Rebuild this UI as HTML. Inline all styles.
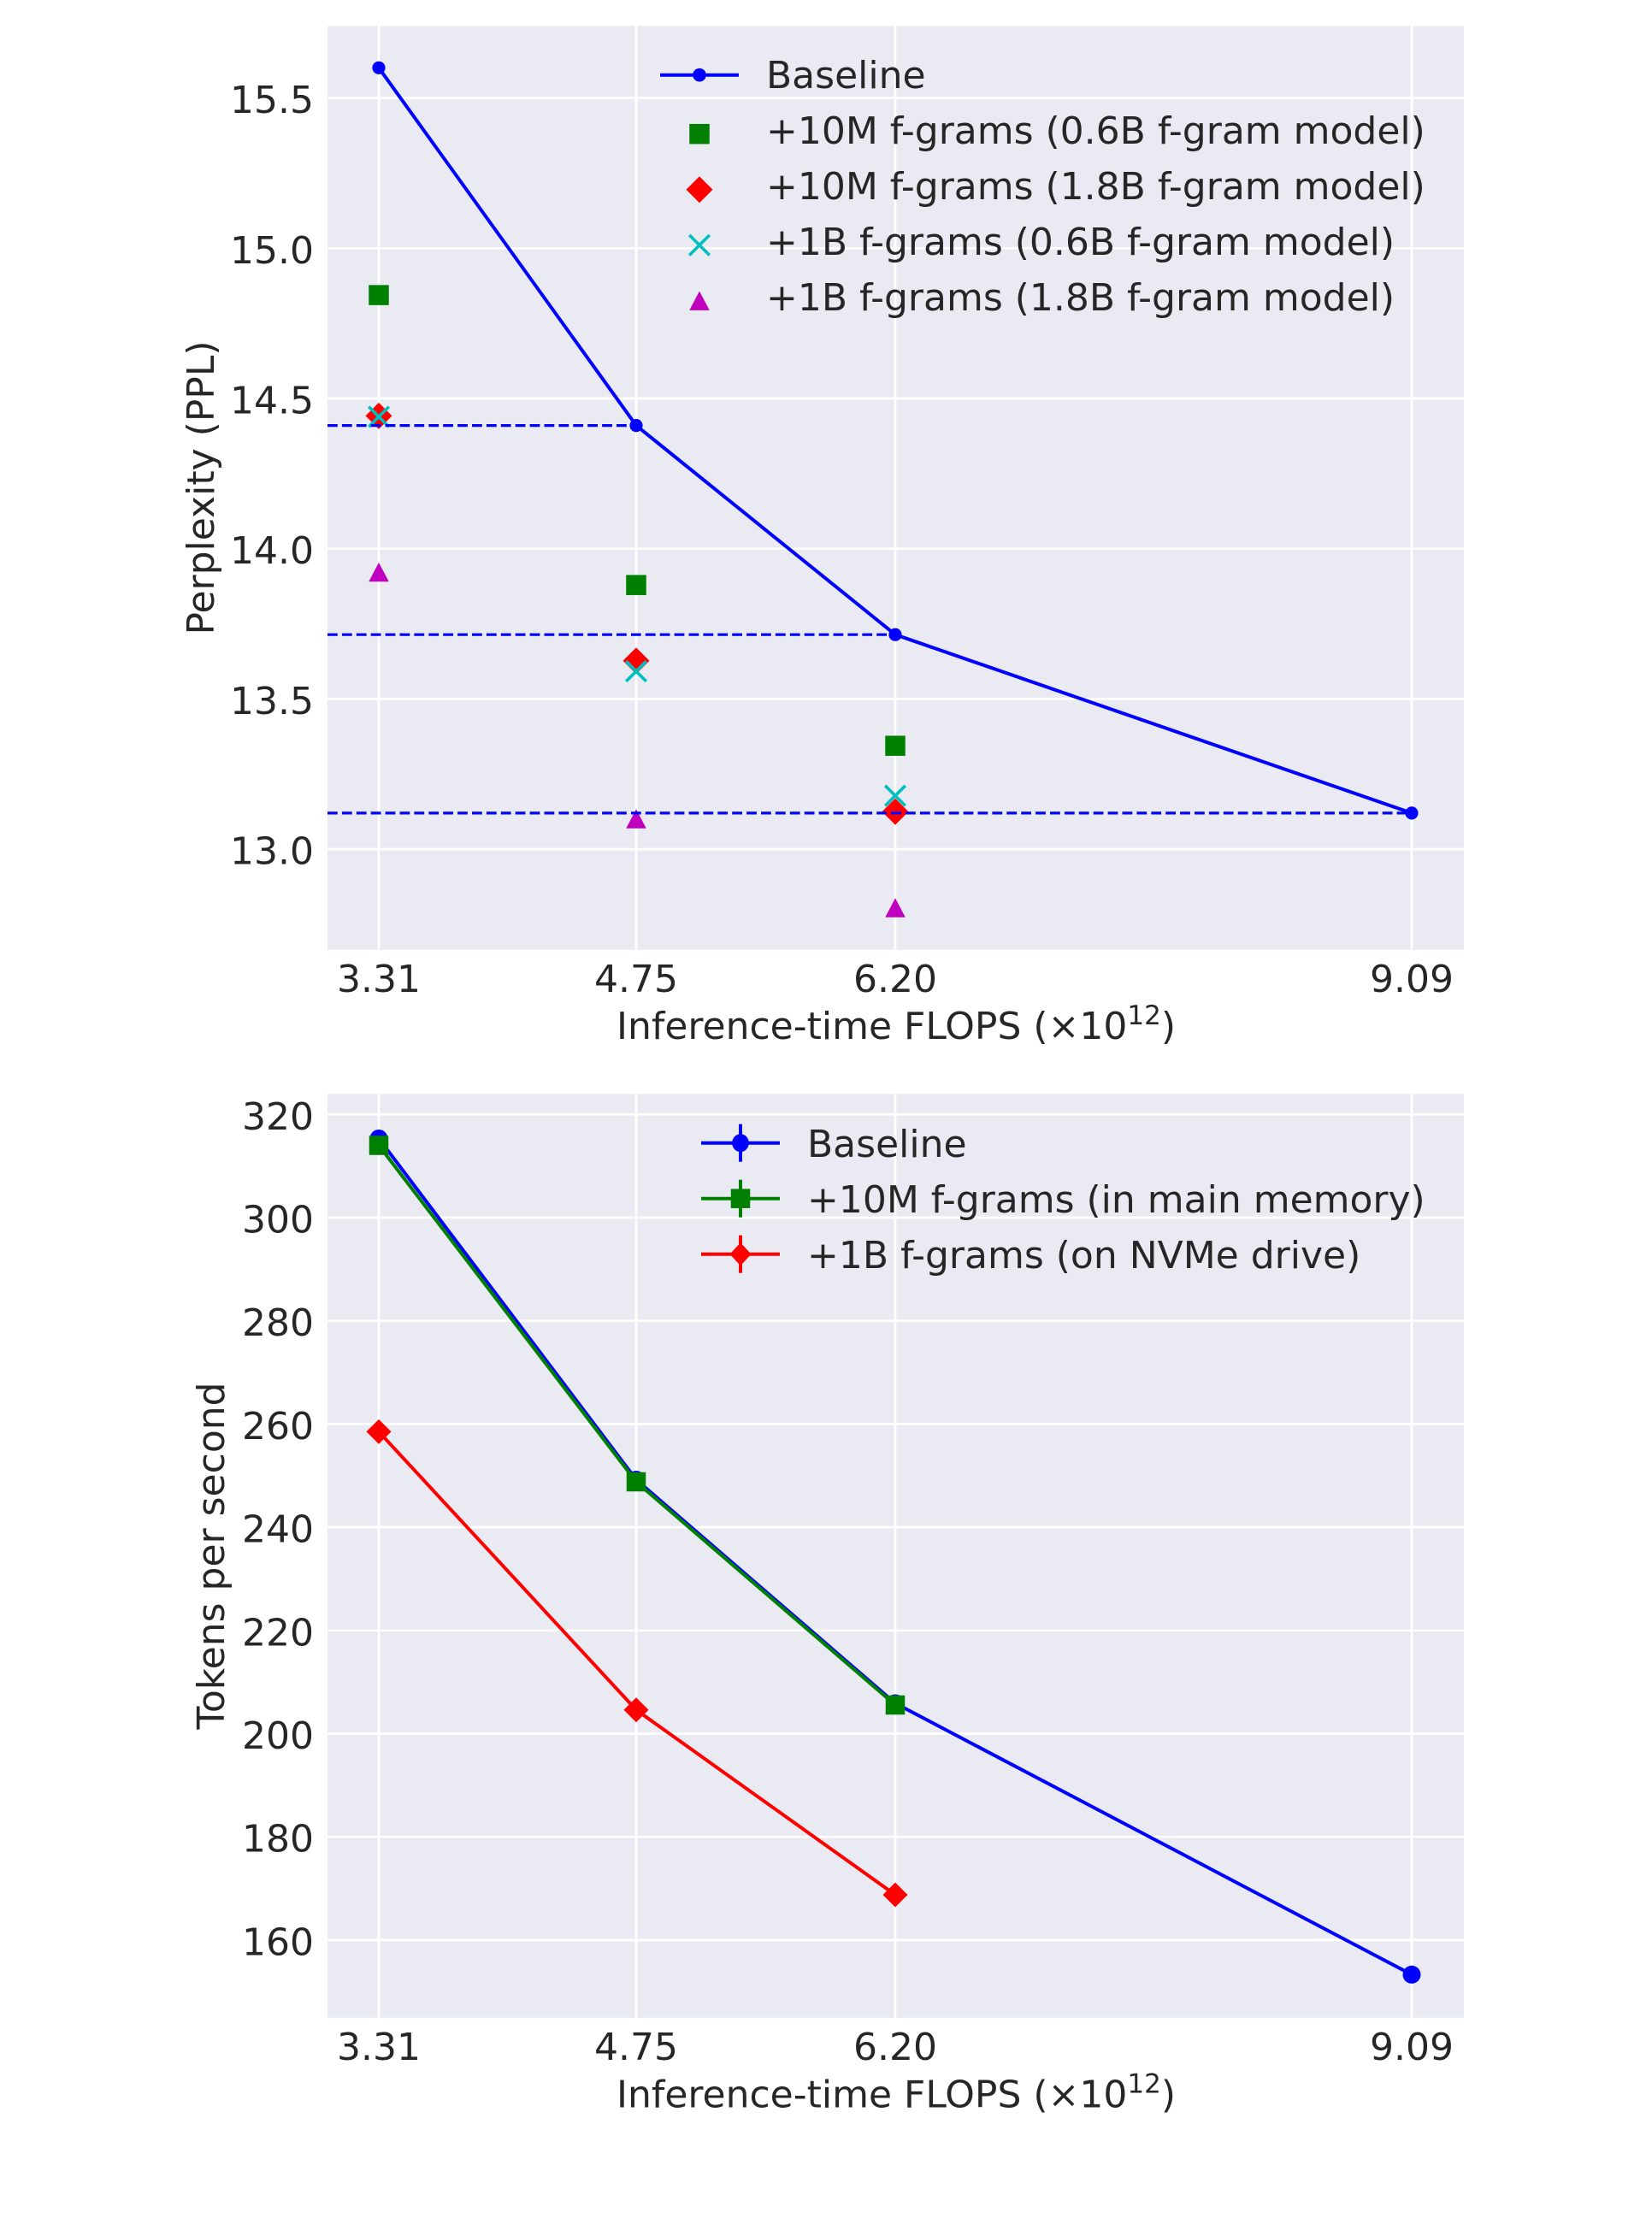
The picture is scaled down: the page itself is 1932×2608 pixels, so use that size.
<!DOCTYPE html>
<html>
<head>
<meta charset="utf-8">
<style>
html,body{margin:0;padding:0;background:#ffffff;}
svg{display:block;}
text{font-family:"DejaVu Sans","Liberation Sans",sans-serif;fill:#262626;}
</style>
</head>
<body>
<svg width="1932" height="2608" viewBox="0 0 1932 2608" xmlns="http://www.w3.org/2000/svg">
<rect x="0" y="0" width="1932" height="2608" fill="#ffffff"/>

<!-- ================= TOP PLOT ================= -->
<rect x="383" y="30.3" width="1329" height="1080.5" fill="#EAEAF2"/>
<g stroke="#ffffff" stroke-width="2.7">
  <line x1="443" y1="30.3" x2="443" y2="1110.8"/>
  <line x1="744" y1="30.3" x2="744" y2="1110.8"/>
  <line x1="1047" y1="30.3" x2="1047" y2="1110.8"/>
  <line x1="1651" y1="30.3" x2="1651" y2="1110.8"/>
  <line x1="383" y1="993.1" x2="1712" y2="993.1"/>
  <line x1="383" y1="817.4" x2="1712" y2="817.4"/>
  <line x1="383" y1="641.7" x2="1712" y2="641.7"/>
  <line x1="383" y1="466.0" x2="1712" y2="466.0"/>
  <line x1="383" y1="290.3" x2="1712" y2="290.3"/>
  <line x1="383" y1="114.6" x2="1712" y2="114.6"/>
</g>

<!-- green squares -->
<g fill="#008000">
  <rect x="431.25" y="333.35" width="23.5" height="23.5"/>
  <rect x="732.25" y="672.45" width="23.5" height="23.5"/>
  <rect x="1035.25" y="860.45" width="23.5" height="23.5"/>
</g>
<!-- red diamonds -->
<g fill="#FF0000">
  <polygon points="443,470.9 458.5,486.4 443,501.9 427.5,486.4"/>
  <polygon points="744,757.3 759.5,772.8 744,788.3 728.5,772.8"/>
  <polygon points="1047,933.7 1062.5,949.2 1047,964.7 1031.5,949.2"/>
</g>
<!-- cyan x -->
<g stroke="#00BFBF" stroke-width="3.6" fill="none">
  <path d="M431.2,475.6 L454.8,499.2 M431.2,499.2 L454.8,475.6"/>
  <path d="M732.2,773.3 L755.8,796.9 M732.2,796.9 L755.8,773.3"/>
  <path d="M1035.2,918.8 L1058.8,942.4 M1035.2,942.4 L1058.8,918.8"/>
</g>
<!-- magenta triangles -->
<g fill="#BF00BF">
  <polygon points="443,657.9 454.75,680.3 431.25,680.3"/>
  <polygon points="744,946.4 755.75,968.8 732.25,968.8"/>
  <polygon points="1047,1050.4 1058.75,1072.8 1035.25,1072.8"/>
</g>

<!-- dashed reference lines -->
<g stroke="#0000FF" stroke-width="3.2" stroke-dasharray="11.8 5.1" fill="none">
  <line x1="383" y1="497.6" x2="744" y2="497.6"/>
  <line x1="383" y1="742.2" x2="1047" y2="742.2"/>
  <line x1="383" y1="950.9" x2="1651" y2="950.9"/>
</g>

<!-- baseline line -->
<polyline points="443,79.3 744,497.6 1047,742.2 1651,950.9" fill="none" stroke="#0000FF" stroke-width="4"/>
<g fill="#0000FF">
  <circle cx="443" cy="79.3" r="7.6"/>
  <circle cx="744" cy="497.6" r="7.6"/>
  <circle cx="1047" cy="742.2" r="7.6"/>
  <circle cx="1651" cy="950.9" r="7.6"/>
</g>

<!-- top legend -->
<line x1="772" y1="87.7" x2="864" y2="87.7" stroke="#0000FF" stroke-width="4"/>
<circle cx="818" cy="87.7" r="7.8" fill="#0000FF"/>
<rect x="806.25" y="144.95" width="23.5" height="23.5" fill="#008000"/>
<polygon points="818,206.2 833.5,221.7 818,237.2 802.5,221.7" fill="#FF0000"/>
<path d="M806.2,274.9 L829.8,298.5 M806.2,298.5 L829.8,274.9" stroke="#00BFBF" stroke-width="3.6" fill="none"/>
<polygon points="818,340.5 829.75,362.9 806.25,362.9" fill="#BF00BF"/>
<g font-size="44">
  <text x="896" y="103">Baseline</text>
  <text x="896" y="168">+10M f-grams (0.6B f-gram model)</text>
  <text x="896" y="233">+10M f-grams (1.8B f-gram model)</text>
  <text x="896" y="298">+1B f-grams (0.6B f-gram model)</text>
  <text x="896" y="363">+1B f-grams (1.8B f-gram model)</text>
</g>

<!-- top y ticks -->
<g font-size="44" text-anchor="end">
  <text x="367" y="1010.6">13.0</text>
  <text x="367" y="834.9">13.5</text>
  <text x="367" y="659.2">14.0</text>
  <text x="367" y="483.5">14.5</text>
  <text x="367" y="307.8">15.0</text>
  <text x="367" y="132.1">15.5</text>
</g>
<!-- top x ticks -->
<g font-size="44" text-anchor="middle">
  <text x="443" y="1160">3.31</text>
  <text x="744" y="1160">4.75</text>
  <text x="1047" y="1160">6.20</text>
  <text x="1651" y="1160">9.09</text>
</g>
<text x="1048" y="1215" font-size="44" text-anchor="middle">Inference-time FLOPS (×10<tspan dy="-17" font-size="31">12</tspan><tspan dy="17">)</tspan></text>
<text transform="translate(250,570.5) rotate(-90)" font-size="44" text-anchor="middle">Perplexity (PPL)</text>

<!-- ================= BOTTOM PLOT ================= -->
<rect x="383" y="1279.3" width="1329" height="1080.5" fill="#EAEAF2"/>
<g stroke="#ffffff" stroke-width="2.7">
  <line x1="443" y1="1279.3" x2="443" y2="2359.8"/>
  <line x1="744" y1="1279.3" x2="744" y2="2359.8"/>
  <line x1="1047" y1="1279.3" x2="1047" y2="2359.8"/>
  <line x1="1651" y1="1279.3" x2="1651" y2="2359.8"/>
  <line x1="383" y1="1303.3" x2="1712" y2="1303.3"/>
  <line x1="383" y1="1424.0" x2="1712" y2="1424.0"/>
  <line x1="383" y1="1544.7" x2="1712" y2="1544.7"/>
  <line x1="383" y1="1665.4" x2="1712" y2="1665.4"/>
  <line x1="383" y1="1786.1" x2="1712" y2="1786.1"/>
  <line x1="383" y1="1906.8" x2="1712" y2="1906.8"/>
  <line x1="383" y1="2027.5" x2="1712" y2="2027.5"/>
  <line x1="383" y1="2148.2" x2="1712" y2="2148.2"/>
  <line x1="383" y1="2268.9" x2="1712" y2="2268.9"/>
</g>

<!-- baseline -->
<polyline points="443,1331.5 744,1730.5 1047,1992 1651,2309.3" fill="none" stroke="#0000FF" stroke-width="4"/>
<g fill="#0000FF">
  <circle cx="443" cy="1331.5" r="10.5"/>
  <circle cx="744" cy="1730.5" r="10.5"/>
  <circle cx="1047" cy="1992" r="10.5"/>
  <circle cx="1651" cy="2309.3" r="10.5"/>
</g>
<!-- green -->
<polyline points="443,1339.5 744,1733 1047,1994" fill="none" stroke="#008000" stroke-width="4"/>
<g fill="#008000">
  <rect x="431.75" y="1328.25" width="22.5" height="22.5"/>
  <rect x="732.75" y="1721.75" width="22.5" height="22.5"/>
  <rect x="1035.75" y="1982.75" width="22.5" height="22.5"/>
</g>
<!-- red -->
<polyline points="443,1674.4 744,1999.7 1047,2216" fill="none" stroke="#FF0000" stroke-width="4"/>
<g fill="#FF0000">
  <polygon points="443,1659.9 457.5,1674.4 443,1688.9 428.5,1674.4"/>
  <polygon points="744,1985.2 758.5,1999.7 744,2014.2 729.5,1999.7"/>
  <polygon points="1047,2201.5 1061.5,2216 1047,2230.5 1032.5,2216"/>
</g>

<!-- bottom legend -->
<g stroke-width="4">
  <line x1="820" y1="1336.7" x2="912" y2="1336.7" stroke="#0000FF"/>
  <line x1="866" y1="1314.7" x2="866" y2="1358.7" stroke="#0000FF"/>
  <line x1="820" y1="1401.7" x2="912" y2="1401.7" stroke="#008000"/>
  <line x1="866" y1="1379.7" x2="866" y2="1423.7" stroke="#008000"/>
  <line x1="820" y1="1466.7" x2="912" y2="1466.7" stroke="#FF0000"/>
  <line x1="866" y1="1444.7" x2="866" y2="1488.7" stroke="#FF0000"/>
</g>
<ellipse cx="866" cy="1336.7" rx="9.8" ry="10.5" fill="#0000FF"/>
<rect x="854.75" y="1390.45" width="22.5" height="22.5" fill="#008000"/>
<polygon points="866,1453.2 878.5,1466.7 866,1480.2 853.5,1466.7" fill="#FF0000"/>
<g font-size="44">
  <text x="944" y="1353">Baseline</text>
  <text x="944" y="1418">+10M f-grams (in main memory)</text>
  <text x="944" y="1483">+1B f-grams (on NVMe drive)</text>
</g>

<!-- bottom y ticks -->
<g font-size="44" text-anchor="end">
  <text x="367" y="1320.8">320</text>
  <text x="367" y="1441.5">300</text>
  <text x="367" y="1562.2">280</text>
  <text x="367" y="1682.9">260</text>
  <text x="367" y="1803.6">240</text>
  <text x="367" y="1924.3">220</text>
  <text x="367" y="2045.0">200</text>
  <text x="367" y="2165.7">180</text>
  <text x="367" y="2286.4">160</text>
</g>
<!-- bottom x ticks -->
<g font-size="44" text-anchor="middle">
  <text x="443" y="2409">3.31</text>
  <text x="744" y="2409">4.75</text>
  <text x="1047" y="2409">6.20</text>
  <text x="1651" y="2409">9.09</text>
</g>
<text x="1048" y="2464.5" font-size="44" text-anchor="middle">Inference-time FLOPS (×10<tspan dy="-17" font-size="31">12</tspan><tspan dy="17">)</tspan></text>
<text transform="translate(262,1819.5) rotate(-90)" font-size="44" text-anchor="middle">Tokens per second</text>
</svg>
</body>
</html>
